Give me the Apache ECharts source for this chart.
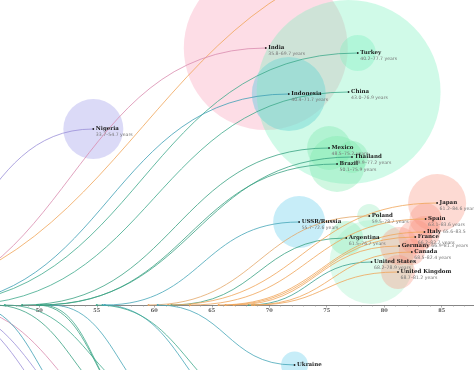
<!DOCTYPE html>
<html><head><meta charset="utf-8">
<script src="https://cdn.jsdelivr.net/npm/echarts/dist/echarts.min.js"></script>
<style>html,body{margin:0;padding:0;background:#fff}#c{width:474px;height:370px}</style>
</head><body><div id="c"></div><script>
// Labelled countries
const names   = ['Nigeria','India','Turkey','Indonesia','China','Mexico','Thailand','Brazil','USSR/Russia','Poland','Argentina','United States','United Kingdom','Japan','Spain','Italy','France','Germany','Canada','Ukraine'];
const startLE = [33.7,35.8,40.2,40.4,43.0,48.5,49.9,50.1,55.7,59.5,61.5,68.2,68.7,61.2,63.1,65.6,66.2,66.9,68.5,60.3];
const endLE   = [54.7,69.7,77.7,71.7,76.9,75.2,77.2,75.9,72.6,78.7,76.7,78.9,81.2,84.6,83.6,83.5,82.7,81.3,82.4,72.2];
const yEnd    = [176,257,252,211,213,157,148,141,83,89,67,43,33,102,86,73,68,59,53,-60];
const pop     = [144,1076,52,219,1354,77,41,125,108,23,46,282,46,135,41,41,46,58,27,29];
const region  = ['africa','southasia','asia','seasia','asia','latam','latam','latam','ussr','east','latam','na','west','west','west','west','west','west','west','ussr'];
const rangeTxt= ['33.7–54.7 years','35.8–69.7 years','40.2–77.7 years','40.4–71.7 years','43.0–76.9 years','48.5–75.2 years','49.9–77.2 years','50.1–75.9 years','55.7–72.6 years','59.5–78.7 years','61.5–76.7 years','68.2–78.9 years','68.7–81.2 years','61.2–84.6 years','63.1–83.6 years','65.6–83.5','66.2–82.7 years','66.9–81.3 years','68.5–82.4 years',''];
const inlineRange = ['Italy','Germany'];
// Unlabelled curves whose end points lie outside the view
const hStart  = [32.0,40.5,41.0,42.0,39.0,38.0,44.0,46.0,47.0,50.2,49.8,51.0,55.5,55.0];
const hEnd    = [86.0,58.0,59.0,62.0,55.0,52.0,56.0,60.0,62.0,59.5,60.0,63.0,70.0,71.0];
const hY      = [357,-150,-140,-140,-150,-160,-120,-110,-100,-110,-115,-110,-120,-110];
const hRegion = ['west','africa','africa','southasia','africa','seasia','seasia','latam','asia','asia','latam','ussr','ussr','asia'];
const xTicks  = [50,55,60,65,70,75,80,85];

const styles = {
  africa:   {line:'#9a8fd8', bub:'rgba(190,188,240,0.55)'},
  southasia:{line:'#d98cae', bub:'rgba(250,180,200,0.45)'},
  asia:     {line:'#3fa98c', bub:'rgba(120,240,190,0.35)'},
  seasia:   {line:'#3f9fb5', bub:'rgba(100,200,225,0.45)'},
  latam:    {line:'#3aa283', bub:'rgba(120,232,170,0.35)'},
  ussr:     {line:'#45a6b8', bub:'rgba(130,215,240,0.45)'},
  east:     {line:'#e3a768', bub:'rgba(150,235,190,0.35)'},
  na:       {line:'#3aa08f', bub:'rgba(160,240,200,0.35)'},
  west:     {line:'#f0a458', bub:'rgba(248,150,130,0.35)'}
};

const mainData = names.map((n,i)=>[startLE[i],endLE[i],yEnd[i],pop[i],i]);
const hidData = hStart.map((s,i)=>[s,hEnd[i],hY[i],0,i]);

function curve(api, s, e, y, color){
  const p0 = api.coord([s,0]), p1 = api.coord([e,y]);
  const mx = (p0[0]+p1[0])/2;
  return {type:'bezierCurve', shape:{x1:p0[0],y1:p0[1],x2:p1[0],y2:p1[1],cpx1:mx,cpy1:p0[1],cpx2:mx,cpy2:p1[1]},
    style:{stroke:color, fill:null, lineWidth:0.8}, silent:true};
}

const chart = echarts.init(document.getElementById('c'), null, {renderer:'canvas'});
chart.setOption({
  animation:false,
  grid:{left:-18.2, right:-25.2, top:0, bottom:0, containLabel:false, outerBoundsMode:'none'},
  xAxis:{type:'value', min:45, max:90, interval:5,
    axisLine:{onZero:true, lineStyle:{color:'#666', width:0.8}},
    axisTick:{show:true, length:2.5, inside:false, lineStyle:{color:'#777', width:0.6}},
    minorTick:{show:true, splitNumber:5, length:1.8, lineStyle:{color:'#999', width:0.5}},
    splitLine:{show:false},
    axisLabel:{show:false}},
  yAxis:{type:'value', min:-65, max:305, show:false, splitLine:{show:false}},
  series:[
    {type:'custom', z:1, data:mainData, encode:{x:[0,1], y:2}, clip:false,
      renderItem:(params, api)=>{
        const i = api.value(4);
        const c = api.coord([api.value(1), api.value(2)]);
        const r = 2.5*Math.sqrt(api.value(3));
        return {type:'circle', shape:{cx:c[0], cy:c[1], r:r}, style:{fill:styles[region[i]].bub}, silent:true};
      }},
    {type:'custom', z:2, data:hidData, encode:{x:[0,1], y:2}, clip:false,
      renderItem:(params, api)=>{
        const i = api.value(4);
        const g = {type:'group', children:[curve(api, api.value(0), api.value(1), api.value(2), styles[hRegion[i]].line)]};
        const p0 = api.coord([api.value(0),0]);
        g.children.push({type:'circle', shape:{cx:p0[0], cy:p0[1], r:1}, style:{fill:styles[hRegion[i]].line}});
        return g;
      }},
    {type:'custom', z:3, data:mainData, encode:{x:[0,1], y:2}, clip:false,
      renderItem:(params, api)=>{
        const i = api.value(4);
        const p0 = api.coord([api.value(0),0]);
        return {type:'group', children:[
          curve(api, api.value(0), api.value(1), api.value(2), styles[region[i]].line),
          {type:'circle', shape:{cx:p0[0], cy:p0[1], r:1}, style:{fill:styles[region[i]].line}}
        ]};
      }},
    {type:'custom', z:4, data:mainData, encode:{x:[0,1], y:2}, clip:false,
      renderItem:(params, api)=>{
        const i = api.value(4);
        const c = api.coord([api.value(1), api.value(2)]);
        const inl = inlineRange.includes(names[i]);
        const nameFont = 'bold 5.5px "DejaVu Serif"';
        const ch = [
          {type:'circle', shape:{cx:c[0], cy:c[1], r:0.9}, style:{fill:'#222'}},
          {type:'text', style:{text:names[i], x:c[0]+2.5, y:c[1], font:nameFont, fill:'#1a1a1a', align:'left', verticalAlign:'middle'}}
        ];
        if (rangeTxt[i]) {
          const rf = '4.6px "DejaVu Sans"';
          if (inl) {
            const w = echarts.format.getTextRect ? echarts.format.getTextRect(names[i], nameFont).width : names[i].length*3.6;
            ch.push({type:'text', style:{text:rangeTxt[i], x:c[0]+4.5+w, y:c[1], font:rf, fill:'#777', align:'left', verticalAlign:'middle'}});
          } else {
            ch.push({type:'text', style:{text:rangeTxt[i], x:c[0]+2.5, y:c[1]+5.8, font:rf, fill:'#777', align:'left', verticalAlign:'middle'}});
          }
        }
        return {type:'group', children:ch};
      }},
    {type:'custom', z:5, data:xTicks.map(v=>[v,0]), encode:{x:0, y:1}, clip:false,
      renderItem:(params, api)=>{
        const p = api.coord([api.value(0), 0]);
        return {type:'text', style:{text:String(api.value(0)), x:p[0], y:p[1]+6, font:'bold 5px "DejaVu Serif"', fill:'#555', align:'center', verticalAlign:'middle'}};
      }}
  ]
});
</script></body></html>
